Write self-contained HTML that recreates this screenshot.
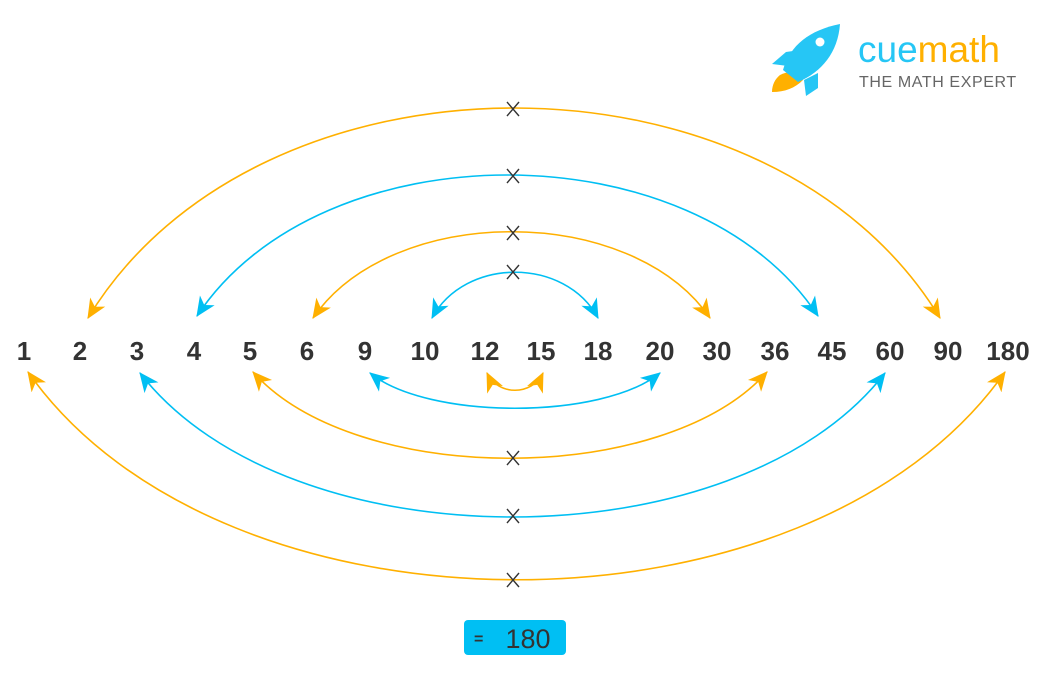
<!DOCTYPE html>
<html><head><meta charset="utf-8"><style>
html,body{margin:0;padding:0;background:#fff;}
body{width:1042px;height:678px;overflow:hidden;position:relative;font-family:"Liberation Sans",sans-serif;}
</style></head><body>
<svg width="1042" height="678" viewBox="0 0 1042 678" xmlns="http://www.w3.org/2000/svg">
<defs>
<marker id="ao" markerUnits="userSpaceOnUse" markerWidth="22" markerHeight="22" refX="17" refY="8" orient="auto-start-reverse" viewBox="0 0 20 16">
<path d="M0 0 L18 8 L0 16 L5 8 Z" fill="#FFB000"/></marker>
<marker id="ab" markerUnits="userSpaceOnUse" markerWidth="22" markerHeight="22" refX="17" refY="8" orient="auto-start-reverse" viewBox="0 0 20 16">
<path d="M0 0 L18 8 L0 16 L5 8 Z" fill="#00BFF3"/></marker>
</defs>
<g fill="none" stroke-width="1.6">
<path d="M88 318 C258 38 770 38 940 318" stroke="#FFB000" marker-start="url(#ao)" marker-end="url(#ao)"/>
<path d="M197 316 C321 128 694 128 818 316" stroke="#00BFF3" marker-start="url(#ab)" marker-end="url(#ab)"/>
<path d="M313 318 C392 203 631 203 710 318" stroke="#FFB000" marker-start="url(#ao)" marker-end="url(#ao)"/>
<path d="M432 318 C465 257 565 257 598 318" stroke="#00BFF3" marker-start="url(#ab)" marker-end="url(#ab)"/>
<path d="M28 372 C223 649 810 649 1005 372" stroke="#FFB000" marker-start="url(#ao)" marker-end="url(#ao)"/>
<path d="M140 373 C289 565 736 565 885 373" stroke="#00BFF3" marker-start="url(#ab)" marker-end="url(#ab)"/>
<path d="M253 372 C356 487 664 487 767 372" stroke="#FFB000" marker-start="url(#ao)" marker-end="url(#ao)"/>
<path d="M370 373 C428 420 602 420 660 373" stroke="#00BFF3" marker-start="url(#ab)" marker-end="url(#ab)"/>
<path d="M487 373 C498 396 532 396 543 373" stroke="#FFB000" marker-start="url(#ao)" marker-end="url(#ao)"/>
</g>
<g stroke="#333" stroke-width="1.4" fill="none">
<path d="M507 102 L519 116 M519 102 L507 116"/>
<path d="M507 169 L519 183 M519 169 L507 183"/>
<path d="M507 226 L519 240 M519 226 L507 240"/>
<path d="M507 265 L519 279 M519 265 L507 279"/>
<path d="M507 451 L519 465 M519 451 L507 465"/>
<path d="M507 509 L519 523 M519 509 L507 523"/>
<path d="M507 573 L519 587 M519 573 L507 587"/>
</g>
<g font-family="Liberation Sans, sans-serif" font-size="26" fill="#333" text-anchor="middle" font-weight="bold">
<text x="24" y="360">1</text><text x="80" y="360">2</text><text x="137" y="360">3</text><text x="194" y="360">4</text>
<text x="250" y="360">5</text><text x="307" y="360">6</text><text x="365" y="360">9</text><text x="425" y="360">10</text>
<text x="485" y="360">12</text><text x="541" y="360">15</text><text x="598" y="360">18</text><text x="660" y="360">20</text>
<text x="717" y="360">30</text><text x="775" y="360">36</text><text x="832" y="360">45</text><text x="890" y="360">60</text>
<text x="948" y="360">90</text><text x="1008" y="360">180</text>
</g>
<rect x="464" y="620" width="102" height="35" rx="4" fill="#00BFF3"/>
<text x="474" y="644" font-family="Liberation Sans, sans-serif" font-size="16" font-weight="bold" fill="#333">=</text>
<text x="528" y="648" font-family="Liberation Sans, sans-serif" font-size="27" fill="#333" text-anchor="middle">180</text>
<g>
<path d="M780 75 C790 70 800 72 803 80 C795 88 785 92 772 92 C772 85 775 79 780 75 Z" fill="#FFB000"/>
<path d="M783 70 C790 45 810 30 840 24 C838 52 822 72 798 82 Z" fill="#26C6F5"/>
<path d="M786 52 L800 50 L788 66 L772 64 Z" fill="#26C6F5"/>
<path d="M818 73 L818 88 L806 96 L804 80 Z" fill="#26C6F5"/>
<circle cx="820" cy="42" r="4.5" fill="#fff"/>
</g>
<text x="858" y="62" font-family="Liberation Sans, sans-serif" font-size="37" fill="#26C6F5">cue<tspan fill="#FFB000">math</tspan></text>
<text x="859" y="87" font-family="Liberation Sans, sans-serif" font-size="16" fill="#666" letter-spacing="0.6">THE MATH EXPERT</text>
</svg>
</body></html>
